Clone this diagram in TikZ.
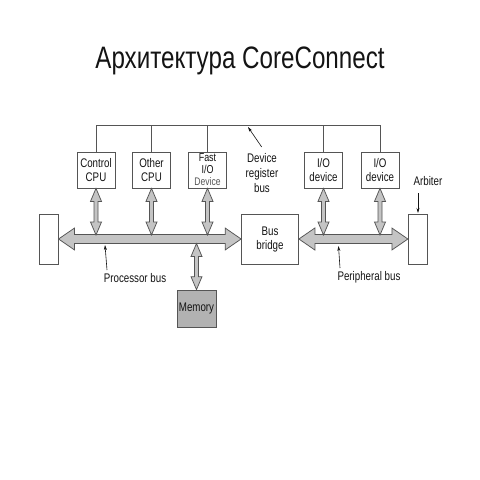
\documentclass[tikz,border=0pt]{standalone}
\usepackage{fontspec}
\setmainfont{Liberation Sans}[FakeStretch=0.78]
\usetikzlibrary{calc,arrows.meta}
\definecolor{linec}{RGB}{85,85,85}
\definecolor{arrfill}{RGB}{196,196,196}
\definecolor{memfill}{RGB}{178,178,178}
\definecolor{txt}{RGB}{20,20,20}
\newcommand\hbusarrow[2]{%
  \draw[busarrow] let \p1=#1, \p2=#2 in
    (\x1,\y1) -- ++(16pt,11pt) -- ++(0,-6.5pt) -- (\x2-16pt,\y1+4.5pt) -- ++(0,6.5pt)
    -- (\x2,\y1) -- ++(-16pt,-11pt) -- ++(0,6.5pt) -- (\x1+16pt,\y1-4.5pt) -- ++(0,-6.5pt) -- cycle;}
\newcommand\vbusarrow[2]{%
  \draw[busarrow] let \p1=#1, \p2=#2 in
    (\x1,\y1) -- ++(5.5pt,-13pt) -- ++(-3.5pt,0) -- (\x1+2pt,\y2+13pt) -- ++(3.5pt,0)
    -- (\x1,\y2) -- ++(-5.5pt,13pt) -- ++(3.5pt,0) -- (\x1-2pt,\y1-13pt) -- ++(-3.5pt,0) -- cycle;}
\begin{document}
\begin{tikzpicture}[x=1pt,y=-1pt,
  box/.style={draw=linec,line width=0.75pt,fill=white,text=txt,align=center,inner sep=0pt,
    font=\fontsize{12.5}{14}\selectfont},
  dev/.style={box,minimum width=38pt,minimum height=36pt},
  lbl/.style={text=txt,align=center,font=\fontsize{12.5}{15}\selectfont},
  busarrow/.style={draw=linec,line width=0.75pt,fill=arrfill},
  wire/.style={draw=linec,line width=0.75pt},
  pointer/.style={draw=txt,line width=0.6pt,-{Stealth[length=5pt,width=3pt]}}]
\useasboundingbox (0,0) rectangle (480,480);
\fill[white] (0,0) rectangle (480,480);
\node[text=txt,font=\fontsize{31}{33}\selectfont] (title) at (240,61) {Архитектура CoreConnect};
% boxes
\node[dev] (cc) at (96,170) {Control\\CPU};
\node[dev] (oc) at (151.5,170) {Other\\CPU};
\node[dev,font=\fontsize{11.5}{12}\selectfont] (fio) at (207.5,170) {Fast\\I/O\\{\fontsize{11}{12}\selectfont\color{linec}Device}};
\node[dev] (io1) at (323.5,170) {I/O\\device};
\node[dev] (io2) at (380,170) {I/O\\device};
\node[box,minimum width=19pt,minimum height=50pt] (lb) at (48.7,239) {};
\node[box,minimum width=19.5pt,minimum height=50pt] (arb) at (418,239) {};
\node[box,minimum width=57pt,minimum height=50pt] (bb) at (270,239) {Bus\\bridge};
\node[box,fill=memfill,minimum width=39pt,minimum height=37pt] (mem) at (196.5,308.5) {Memory};
% labels
\node[lbl] (drb) at (262,173) {Device\\register\\bus};
\node[lbl] (arbl) at (428,181) {Arbiter};
\node[lbl] (pbl) at (135,278) {Processor bus};
\node[lbl] (perl) at (369,277) {Peripheral bus};
% device register bus
\coordinate (topl) at (95,125);
\coordinate (topr) at (380,125);
\draw[wire] (cc.north) -- (cc.north |- topl) -- (topr) -- (io2.north);
\draw[wire] (oc.north) -- (oc.north |- topl);
\draw[wire] (fio.north) -- (fio.north |- topl);
\draw[wire] (io1.north) -- (io1.north |- topl);
% buses
\hbusarrow{(lb.east)}{(bb.west)}
\hbusarrow{(bb.east)}{(arb.west)}
\coordinate (btop) at (0,235);
\coordinate (bbot) at (0,243.5);
\vbusarrow{(cc.south)}{(cc.south |- btop)}
\vbusarrow{(oc.south)}{(oc.south |- btop)}
\vbusarrow{(fio.south)}{(fio.south |- btop)}
\vbusarrow{(io1.south)}{(io1.south |- btop)}
\vbusarrow{(io2.south)}{(io2.south |- btop)}
\vbusarrow{(mem.north |- bbot)}{(mem.north)}
% pointers
\coordinate (drbt) at (248,127);
\coordinate (arbt) at (418,213);
\coordinate (pbt) at (105,245);
\coordinate (pert) at (338.5,246);
\draw[pointer] (261.7,147) -- (drbt);
\draw[pointer] (418,193) -- (arbt);
\draw[pointer] (107,270) -- (pbt);
\draw[pointer] (340,268) -- (pert);
\end{tikzpicture}
\end{document}
